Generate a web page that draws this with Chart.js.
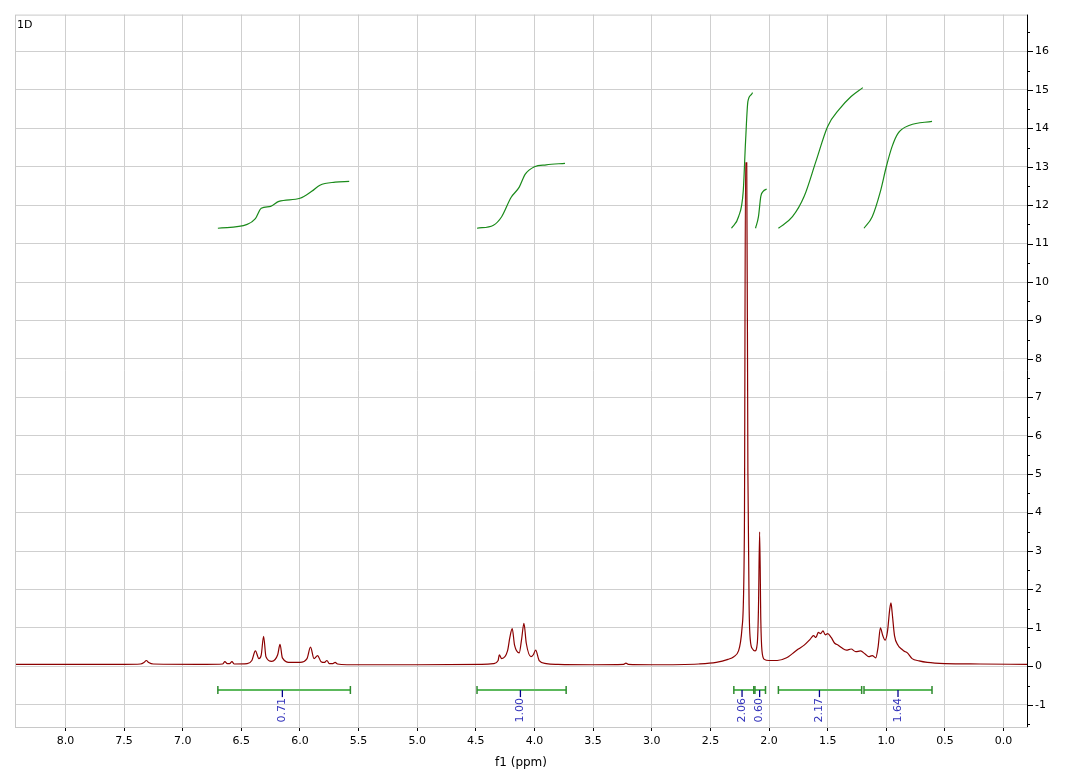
<!DOCTYPE html>
<html><head><meta charset="utf-8">
<script src="https://cdn.jsdelivr.net/npm/chart.js@4"></script>
<style>html,body{margin:0;padding:0;background:#fff}#w{width:1080px;height:772px;position:relative}</style>
</head><body><div id="w"><canvas id="c"></canvas></div>
<script>
// Spectrum (ppm, intensity)
const specPpm = [8.43,7.5,7.36,7.33,7.31,7.29,7.25,6.8,6.66,6.64,6.62,6.60,6.58,6.56,6.45,6.41,6.38,6.35,6.33,6.31,6.29,6.24,6.19,6.17,6.15,6.08,6.0,5.94,5.91,5.88,5.85,5.82,5.79,5.77,5.75,5.72,5.70,5.68,5.6,5.0,4.45,4.35,4.31,4.30,4.28,4.23,4.21,4.19,4.17,4.13,4.11,4.09,4.07,4.03,4.01,3.99,3.96,3.9,3.8,3.5,3.24,3.22,3.20,3.0,2.6,2.45,2.35,2.3,2.26,2.23,2.21,2.20,2.19,2.18,2.17,2.16,2.14,2.12,2.10,2.09,2.08,2.07,2.06,2.04,2.0,1.93,1.85,1.8,1.75,1.7,1.65,1.62,1.6,1.58,1.56,1.54,1.52,1.5,1.47,1.44,1.41,1.38,1.34,1.3,1.26,1.22,1.18,1.15,1.12,1.09,1.07,1.05,1.03,1.01,0.99,0.97,0.96,0.95,0.93,0.9,0.87,0.85,0.82,0.78,0.72,0.65,0.5,0.2,-0.2];
const specInt = [0.05,0.05,0.06,0.1,0.15,0.1,0.06,0.05,0.06,0.12,0.07,0.07,0.12,0.06,0.07,0.15,0.4,0.2,0.3,0.78,0.25,0.13,0.3,0.57,0.22,0.1,0.1,0.2,0.5,0.2,0.28,0.12,0.1,0.15,0.07,0.07,0.1,0.06,0.04,0.04,0.05,0.07,0.15,0.3,0.2,0.4,0.75,0.98,0.55,0.35,0.7,1.12,0.6,0.25,0.3,0.42,0.15,0.07,0.05,0.04,0.05,0.08,0.05,0.04,0.06,0.1,0.18,0.25,0.4,1.0,3.5,13.1,13.1,5.0,1.6,0.7,0.45,0.4,0.6,1.5,3.5,1.2,0.4,0.18,0.15,0.15,0.22,0.33,0.45,0.55,0.7,0.8,0.75,0.88,0.85,0.92,0.82,0.85,0.75,0.6,0.55,0.48,0.42,0.45,0.38,0.4,0.32,0.25,0.28,0.22,0.5,1.0,0.8,0.68,0.9,1.5,1.65,1.4,0.8,0.55,0.45,0.4,0.35,0.2,0.14,0.1,0.07,0.06,0.05];

// Integral curves
const intCurves = [
  {ppm:[6.70,6.45,6.38,6.33,6.25,6.18,6.0,5.9,5.83,5.7,5.58], val:[11.4,11.5,11.65,11.92,11.97,12.1,12.18,12.36,12.52,12.6,12.62]},
  {ppm:[4.49,4.35,4.28,4.2,4.13,4.08,4.0,3.9,3.74], val:[11.4,11.48,11.7,12.2,12.47,12.8,13.0,13.05,13.09]},
  {ppm:[2.32,2.26,2.22,2.2,2.18,2.15,2.14], val:[11.4,11.7,12.36,13.66,14.7,14.88,14.93]},
  {ppm:[2.115,2.09,2.07,2.05,2.02], val:[11.4,11.7,12.23,12.36,12.42]},
  {ppm:[1.92,1.8,1.7,1.6,1.5,1.4,1.3,1.2], val:[11.4,11.7,12.23,13.14,14.05,14.5,14.83,15.06]},
  {ppm:[1.19,1.12,1.05,1.0,0.95,0.9,0.8,0.61], val:[11.4,11.7,12.36,13.0,13.53,13.87,14.08,14.18]}
];
// Integration ranges
const rangeFrom = [6.70,4.49,2.30,2.12,1.92,1.19];
const rangeTo   = [5.57,3.73,2.13,2.03,1.21,0.61];
const rangeLabelPos = [6.15,4.12,2.23,2.08,1.57,0.90];
const rangeLabels = ['0.71','1.00','2.06','0.60','2.17','1.64'];
const xTicks = [8.0,7.5,7.0,6.5,6.0,5.5,5.0,4.5,4.0,3.5,3.0,2.5,2.0,1.5,1.0,0.5,0.0];
const yTicks = [-1,0,1,2,3,4,5,6,7,8,9,10,11,12,13,14,15,16];
const BAR_Y = -0.62;

const datasets = [];
datasets.push({data: specPpm.map((p,i)=>({x:p,y:specInt[i]})), borderColor:'#8b0000', borderWidth:1.2, pointRadius:0, showLine:true, tension:0.35, cubicInterpolationMode:'monotone'});
intCurves.forEach(c=>datasets.push({data:c.ppm.map((p,i)=>({x:p,y:c.val[i]})), borderColor:'#1a8a1a', borderWidth:1.2, pointRadius:0, showLine:true, cubicInterpolationMode:'monotone'}));
rangeFrom.forEach((f,i)=>datasets.push({data:[{x:f,y:BAR_Y},{x:rangeTo[i],y:BAR_Y}], borderColor:'#5cb85c', borderWidth:2, pointStyle:'line', rotation:90, pointRadius:4, pointBorderColor:'#2e8b2e', pointBorderWidth:1.5, showLine:true}));

const labelPlugin = {
  id:'lbl',
  afterDatasetsDraw(chart){
    const {ctx, scales:{x,y}, chartArea:a} = chart;
    ctx.save();
    rangeLabelPos.forEach((p,i)=>{
      const px = x.getPixelForValue(p), py = y.getPixelForValue(BAR_Y);
      ctx.strokeStyle='#00008b'; ctx.lineWidth=1.3;
      ctx.beginPath(); ctx.moveTo(px,py); ctx.lineTo(px,py+7); ctx.stroke();
      ctx.translate(px,py+8); ctx.rotate(-Math.PI/2);
      ctx.fillStyle='#3333bb'; ctx.font='11px "DejaVu Sans"'; ctx.textAlign='right'; ctx.textBaseline='middle';
      ctx.fillText(rangeLabels[i],0,0);
      ctx.setTransform(1,0,0,1,0,0);
      const dpr = chart.currentDevicePixelRatio; ctx.scale(dpr,dpr);
    });
    ctx.fillStyle='#000'; ctx.font='11px "DejaVu Sans"'; ctx.textAlign='left'; ctx.textBaseline='top';
    ctx.fillText('1D', a.left+2, a.top+5);
    // box & right axis
    ctx.strokeStyle='#c8c8c8'; ctx.lineWidth=1;
    ctx.strokeRect(a.left+0.5,a.top+0.5,a.right-a.left,a.bottom-a.top);
    ctx.strokeStyle='#000';
    ctx.beginPath(); ctx.moveTo(a.right+0.5,a.top); ctx.lineTo(a.right+0.5,a.bottom); ctx.stroke();
    ctx.beginPath();
    for(let v=-1.5; v<=16.9; v+=0.5){
      const py=Math.round(y.getPixelForValue(v))+0.5;
      const len = Number.isInteger(v)?6:3;
      ctx.moveTo(a.right,py); ctx.lineTo(a.right+len,py);
    }
    ctx.stroke();
    ctx.restore();
  }
};

new Chart(document.getElementById('c'), {
  type:'scatter',
  data:{datasets},
  options:{
    responsive:true, maintainAspectRatio:false, animation:false,
    layout:{padding:{left:15,top:13,right:0,bottom:0}},
    plugins:{legend:{display:false}, tooltip:{enabled:false}},
    scales:{
      x:{type:'linear', reverse:true, min:-0.2, max:8.43,
        afterBuildTicks(s){s.ticks=xTicks.map(v=>({value:v}));},
        afterFit(s){s.height=45;},
        ticks:{color:'#000', font:{family:'DejaVu Sans', size:11}, padding:4, callback:v=>Number(v).toFixed(1), maxRotation:0, autoSkip:false},
        grid:{color:'#cfcfcf', lineWidth:1, drawTicks:true, tickLength:4, tickColor:'#000'},
        border:{display:true,color:'#000'},
        title:{display:true, text:'f1 (ppm)', color:'#000', font:{family:'DejaVu Sans', size:12}, padding:{top:0,bottom:2}}
      },
      y:{type:'linear', position:'right', min:-1.58, max:16.96,
        afterBuildTicks(s){s.ticks=yTicks.map(v=>({value:v}));},
        afterFit(s){s.width=53;},
        ticks:{color:'#000', font:{family:'DejaVu Sans', size:11}, padding:8, autoSkip:false},
        grid:{color:'#cfcfcf', lineWidth:1, drawTicks:false},
        border:{display:false}
      }
    }
  },
  plugins:[labelPlugin]
});
</script></body></html>
